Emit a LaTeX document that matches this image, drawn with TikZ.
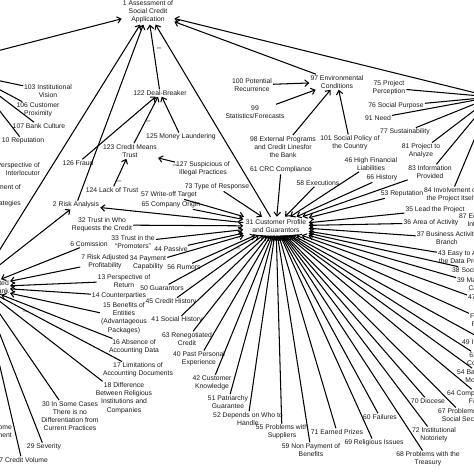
\documentclass[tikz,border=0pt]{standalone}
\usepackage{fontspec}
\setmainfont{Liberation Sans}
\usetikzlibrary{arrows.meta}
\begin{document}
\begin{tikzpicture}[x=1pt,y=-1pt,
 lbl/.style={font=\fontsize{6.8}{8.2}\selectfont, align=center, inner sep=1pt, text=black!90},
 ar/.style={draw=black, line width=1.05pt, -{Straight Barb[length=3.8pt,width=6.5pt]}},
 mn/.style={font=\fontsize{8}{8}\selectfont, inner sep=0pt, text=black!90}]
\useasboundingbox (0,0) rectangle (474,474);
\clip (0,0) rectangle (474,474);
% top
\node[lbl] (n1) at (148,12) {1 Assessment of\\Social Credit\\Application};
\node[lbl] (n122) at (160,93) {122 Deal-Breaker};
\node[lbl] (n125) at (181,137) {125 Money Laundering};
\node[lbl] (n123) at (130,151) {123 Credit Means\\Trust};
\node[lbl] (n126) at (78,163) {126 Fraud};
\node[lbl] (n124) at (112,190) {124 Lack of Trust};
\node[lbl] (n127) at (203,169) {127 Suspicious of\\Illegal Practices};
\node[lbl] (n103) at (48,91) {103 Institutional\\Vision};
\node[lbl] (n106) at (38,110) {106 Customer\\Proximity};
\node[lbl] (n107) at (39,126) {107 Bank Culture};
\node[lbl] (n10) at (23,141) {10 Reputation};
\node[lbl, anchor=east, align=right] (nPI) at (41,169) {Perspective of\\Interlocutor};
\node[lbl, anchor=east, align=right] (nAS) at (22,196) {Assessment of\\\mbox{}\\Strategies};
\node[lbl, anchor=east, align=right] (L) at (10,287) {Customer Related\\to the Bank};
% left fan
\node[lbl] (n6) at (89,244) {6 Comission};
\node[lbl] (n7) at (105,262) {7 Risk Adjusted\\Profitability};
\node[lbl] (n13) at (124,281) {13 Perspective of\\Return};
\node[lbl] (n14) at (119,296) {14 Counterparties};
\node[lbl] (n15) at (124,318) {15 Benefits of\\Entities\\(Advantageous\\Packages)};
\node[lbl] (n16) at (134,347) {16 Absence of\\Accounting Data};
\node[lbl] (n17) at (138,370) {17 Limitations of\\Accounting Documents};
\node[lbl] (n18) at (124,398) {18 Difference\\Between Religious\\Institutions and\\Companies};
\node[lbl] (n30) at (70,416) {30 In Some Cases\\There is no\\Differentiation from\\Current Practices};
\node[lbl] (n29) at (44,447) {29 Severity};
\node[lbl, anchor=east] (n27) at (49,460) {27 Credit Volume};
\node[lbl, anchor=east, align=right] (nIM) at (13,432) {Income\\Management};
% hub and its sources
\node[lbl, inner sep=2.5pt] (n31) at (276,226) {31 Customer Profile\\and Guarantors};
\node[lbl] (n2) at (76,205) {2 Risk Analysis};
\node[lbl] (n32) at (102,225) {32 Trust in Who\\Requests the Credit};
\node[lbl] (n33) at (133,242) {33 Trust in the\\“Promoters”};
\node[lbl] (n34) at (148,263) {34 Payment\\Capability};
\node[lbl] (n44) at (171,249) {44 Passive};
\node[lbl] (n56) at (184,267) {56 Rumors};
\node[lbl] (n50) at (162,288) {50 Guarantors};
\node[lbl] (n45) at (171,302) {45 Credit History};
\node[lbl] (n41) at (177,320) {41 Social History};
\node[lbl] (n63) at (187,339) {63 Renegotiated\\Credit};
\node[lbl] (n40) at (199,359) {40 Past Personal\\Experience};
\node[lbl] (n42) at (212,383) {42 Customer\\Knowledge};
\node[lbl] (n51) at (228,402) {51 Patriarchy\\Guarantee};
\node[lbl] (n52) at (248,419) {52 Depends on Who to\\Handle};
\node[lbl] (n55) at (282,432) {55 Problems with\\Suppliers};
\node[lbl] (n59) at (311,450) {59 Non Payment of\\Benefits};
\node[lbl] (n71) at (337,432) {71 Earned Prizes};
\node[lbl] (n69) at (374,443) {69 Religious Issues};
\node[lbl] (n60) at (380,417) {60 Failures};
\node[lbl] (n70) at (428,401) {70 Diocese};
\node[lbl] (n72) at (434,435) {72 Institutional\\Notoriety};
\node[lbl] (n68) at (428,459) {68 Problems with the\\Treasury};
\node[lbl, anchor=west] (n67) at (437,416) {67 Problems with\\Social Security};
\node[lbl, anchor=west] (n64) at (446,397) {64 Company Financial\\Failures};
\node[lbl, anchor=west] (n54) at (456,376) {54 Bank Account\\Movements};
\node[lbl, anchor=west] (n62) at (466,359) {62 Credit\\Conditions};
\node[lbl, anchor=west] (n49) at (461,342) {49 Indebtedness};
\node[lbl, anchor=west] (nFP) at (469,320) {Financial\\Position};
\node[lbl, anchor=west] (n47) at (467,302) {47 Financial\\Figures};
\node[lbl, anchor=west] (n39) at (456,285) {39 Management\\Capacity};
\node[lbl, anchor=west] (n38) at (451,271) {38 Social Capital};
\node[lbl, anchor=west] (n43) at (437,257) {43 Easy to Access\\the Data Provided};
\node[lbl] (n37) at (447,238) {37 Business Activity\\Branch};
\node[lbl] (n36) at (431,223) {36 Area of Activity};
\node[lbl, anchor=west] (n87) at (458,220) {87 Economic\\Interest};
\node[lbl] (n35) at (435,210) {35 Lead the Project};
\node[lbl, anchor=west] (n84) at (423,195) {84 Involvement of\\the Project Itself};
\node[lbl] (n53) at (402,194) {53 Reputation};
\node[lbl] (n66) at (382,178) {66 History};
\node[lbl] (n83) at (430,172) {83 Information\\Provided};
\node[lbl] (n46) at (371,164) {46 High Financial\\Liabilities};
\node[lbl] (n58) at (318,183) {58 Executions};
\node[lbl] (n61) at (281,170) {61 CRC Compliance};
\node[lbl] (n73) at (217,187) {73 Type of Response};
\node[lbl] (n57) at (169,195) {57 Write-off Target};
\node[lbl] (n65) at (171,205) {65 Company Origin};
% top right
\node[lbl] (n97) at (337,82) {97 Environmental\\Conditions};
\node[lbl] (n100) at (252,85) {100 Potential\\Recurrence};
\node[lbl] (n99) at (255,112) {99\\Statistics/Forecasts};
\node[lbl] (n98) at (283,147) {98 External Programs\\and Credit Linesfor\\the Bank};
\node[lbl] (n101) at (350,143) {101 Social Policy of\\the Country};
\node[lbl] (n75) at (389,88) {75 Project\\Perception};
\node[lbl] (n76) at (396,106) {76 Social Purpose};
\node[lbl] (n91) at (378,118) {91 Need};
\node[lbl] (n77) at (405,132) {77 Sustainability};
\node[lbl] (n81) at (421,151) {81 Project to\\Analyze};
% off-canvas ends
\coordinate (RH) at (492,97);
\coordinate (LT) at (-28,75);
\coordinate (LA) at (-30,58);
% edges
\draw[ar] (LA) -- (n1);
\draw[ar] (L.north) -- (n1);
\draw[ar] (n2) -- (n1);
\draw[ar] (n31) -- (n1);
\draw[ar] (n122) -- (n1);
\draw[ar] (n97) -- (n1);
\draw[ar] (RH) -- (n1);
\draw[ar] (n126) -- (n122);
\draw[ar] (n123) -- (n122);
\draw[ar] (n125) -- (n122);
\draw[ar] (n124) -- (n123);
\draw[ar] (n127) -- (n123);
\draw[ar] (n31) -- (n2);
\draw[ar] (L.north) -- (n2);
\foreach \s in {n103,n106,n107,n10} \draw[ar] (\s) -- (LT);
\foreach \s in {n6,n7,n13,n14,n15,n16,n17,n18,n30,n29,n27} \draw[ar] (\s) -- (L);
\foreach \s in {n32,n33,n34,n44,n56,n50,n45,n41,n63,n40,n42,n51,n52,n55,n59,n71,n69,n60,n70,n72,n68,n67,n64,n54,n62,n49,nFP,n47,n39,n38,n43,n37,n36,n35,n53,n66,n83,n46,n58,n61,n73,n65,n57} \draw[ar] (\s) -- (n31);
\foreach \s in {n75,n76,n91,n77,n81,n83,n84} \draw[ar] (\s) -- (RH);
\foreach \s in {n100,n99,n98,n101} \draw[ar] (\s) -- (n97);
% minus signs
\node[mn] (m1) at (159,49) {–};
\node[mn] (m2) at (148,122) {–};
\node[mn] (m3) at (119,182) {–};
\node[mn] (m4) at (175,166) {–};
\node[mn] (m5) at (25,312) {–};
\node[mn] (m6) at (238,249) {–};
\end{tikzpicture}
\end{document}
